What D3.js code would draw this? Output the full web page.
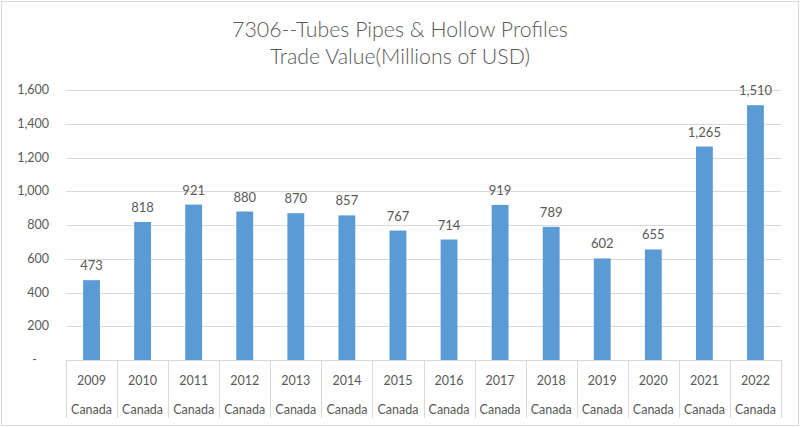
<!DOCTYPE html>
<html>
<head>
<meta charset="utf-8">
<script src="https://cdn.jsdelivr.net/npm/d3@7"></script>
<style>
  body { margin: 0; background: #fff; }
  text { font-family: Lato, "Open Sans", sans-serif; fill: #595959; }
</style>
</head>
<body>
<div id="chart"></div>
<script>
const years = ['2009', '2010', '2011', '2012', '2013', '2014', '2015', '2016', '2017', '2018', '2019', '2020', '2021', '2022']
const country = 'Canada'
const values = [473, 818, 921, 880, 870, 857, 767, 714, 919, 789, 602, 655, 1265, 1510]
const yTicks = [0, 200, 400, 600, 800, 1000, 1200, 1400, 1600]
const titleLines = ['7306--Tubes Pipes & Hollow Profiles', 'Trade Value(Millions of USD)']

const width = 800
const height = 427
const margin = { top: 90, right: 19, bottom: 67, left: 66 }

const svg = d3.select('#chart').append('svg')
  .attr('width', width)
  .attr('height', height)

// chart border
svg.append('rect')
  .attr('x', 1.5).attr('y', 1.5)
  .attr('width', width - 3).attr('height', height - 3)
  .attr('fill', '#fff')
  .attr('stroke', '#d9d9d9')

const x = d3.scaleBand()
  .domain(years)
  .range([margin.left, width - margin.right])
  .paddingInner(0.67)
  .paddingOuter(0.335)

const y = d3.scaleLinear()
  .domain([0, 1600])
  .range([height - margin.bottom, margin.top])

// title
svg.append('g').selectAll('text')
  .data(titleLines).enter()
  .append('text')
  .attr('x', 400)
  .attr('y', (d, i) => 37 + i * 27)
  .attr('text-anchor', 'middle')
  .style('font-size', '21.3px')
  .style('font-weight', 300)
  .text(d => d)

// gridlines
svg.append('g').selectAll('line')
  .data(yTicks.filter(d => d > 0)).enter()
  .append('line')
  .attr('x1', margin.left)
  .attr('x2', width - margin.right)
  .attr('y1', d => Math.round(y(d)) + 0.5)
  .attr('y2', d => Math.round(y(d)) + 0.5)
  .attr('stroke', '#d9d9d9')

// y labels
svg.append('g').selectAll('text')
  .data(yTicks).enter()
  .append('text')
  .attr('x', d => d === 0 ? 37 : 49)
  .attr('y', d => y(d) + 4)
  .attr('text-anchor', 'end')
  .style('font-size', '12.5px')
  .text(d => d === 0 ? '-' : d3.format(',')(d))

// bars
svg.append('g').selectAll('rect')
  .data(values).enter()
  .append('rect')
  .attr('x', (d, i) => x(years[i]))
  .attr('y', d => y(d))
  .attr('width', x.bandwidth())
  .attr('height', d => y(0) - y(d))
  .attr('fill', '#5b9bd5')

// value labels
svg.append('g').selectAll('text')
  .data(values).enter()
  .append('text')
  .attr('x', (d, i) => x(years[i]) + x.bandwidth() / 2)
  .attr('y', d => y(d) - 10)
  .attr('text-anchor', 'middle')
  .style('font-size', '13px')
  .text(d => d3.format(',')(d))

// category axis (table-like)
const step = x.step()
const axisTop = y(0)
svg.append('line')
  .attr('x1', margin.left).attr('x2', width - margin.right)
  .attr('y1', Math.round(axisTop) + 0.5).attr('y2', Math.round(axisTop) + 0.5)
  .attr('stroke', '#d9d9d9')

const seps = d3.range(years.length + 1).map(i => margin.left + i * step)
svg.append('g').selectAll('line')
  .data(seps).enter()
  .append('line')
  .attr('x1', d => Math.round(d) + 0.5)
  .attr('x2', d => Math.round(d) + 0.5)
  .attr('y1', axisTop)
  .attr('y2', axisTop + 58)
  .attr('stroke', '#d9d9d9')

const cats = svg.append('g').selectAll('g')
  .data(years).enter()
  .append('g')

cats.append('text')
  .attr('x', d => x(d) + x.bandwidth() / 2)
  .attr('y', axisTop + 25)
  .attr('text-anchor', 'middle')
  .style('font-size', '12.5px')
  .text(d => d)

cats.append('text')
  .attr('x', d => x(d) + x.bandwidth() / 2)
  .attr('y', axisTop + 54)
  .attr('text-anchor', 'middle')
  .style('font-size', '12.5px')
  .text(country)
</script>
</body>
</html>
